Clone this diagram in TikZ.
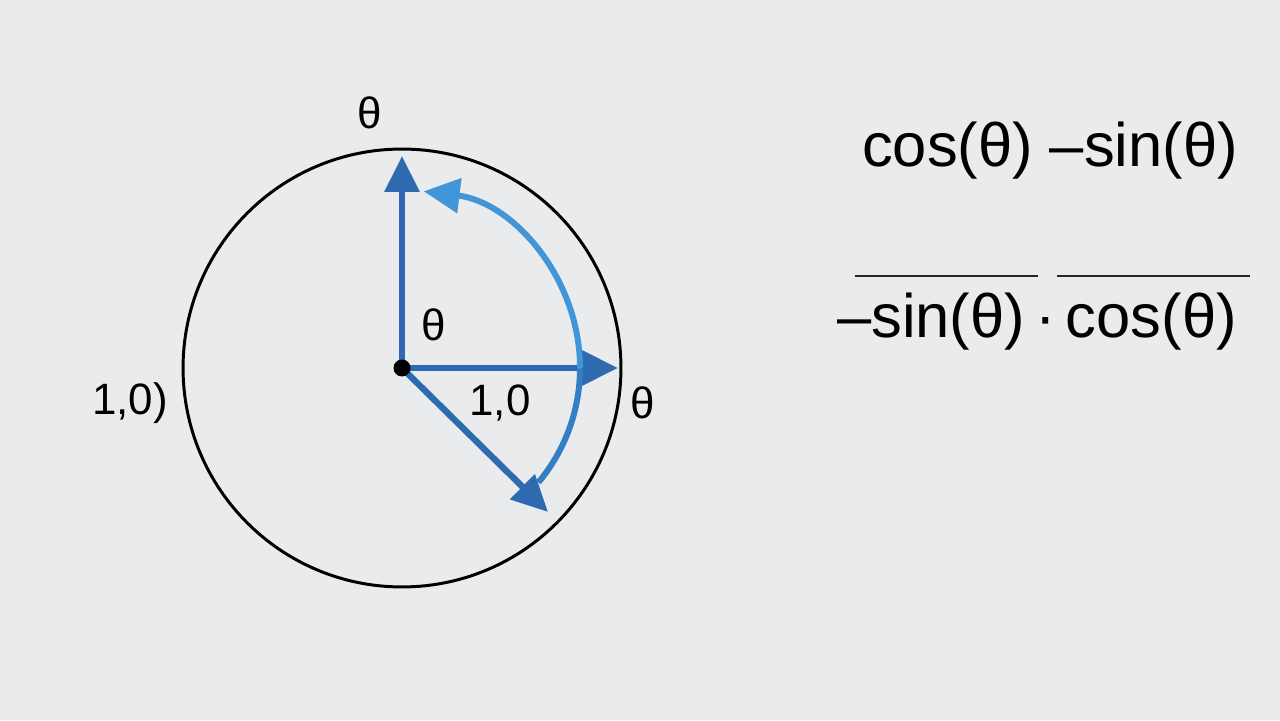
\documentclass[tikz,border=0pt]{standalone}
\usepackage{fontspec}
\setmainfont{Liberation Sans}
\usetikzlibrary{arrows.meta,positioning}
\definecolor{bggray}{RGB}{233,235,237}
\definecolor{vecblue}{RGB}{46,106,176}
\definecolor{arcmid}{RGB}{52,126,196}
\definecolor{arclight}{RGB}{66,150,216}
\tikzset{
  vec/.style={line width=3.6pt, color=vecblue, -{Triangle[length=0.72cm,width=0.68cm]}},
  lbl/.style={font=\fontsize{25}{30}\selectfont, inner sep=0pt},
  eqn/.style={font=\fontsize{35}{42}\selectfont, inner sep=0pt, anchor=base}
}

\begin{document}
\begin{tikzpicture}[x=0.02cm, y=0.02cm]
\fill[bggray] (0,0) rectangle (1280,720);
\useasboundingbox (0,0) rectangle (1280,720);

% Unit circle and origin
\coordinate (o) at (402,352);
\node[circle, draw=black, line width=1.7pt, minimum size=8.76cm, inner sep=0pt] (unit) at (o) {};

% End points of the vectors
\coordinate (top) at ([shift={(90:212)}]o);
\coordinate (right) at ([shift={(0:216)}]o);
\coordinate (diag) at ([shift={(-44.6:205)}]o);

% Vectors
\draw[vec] (o) -- (top);
\draw[vec] (o) -- (right);
\draw[vec] (o) -- (diag);
\node[circle, fill=black, minimum size=0.34cm, inner sep=0pt] (dot) at (o) {};

% Rotation arc
\draw[line width=3.4pt, arcmid] ([shift={(-40:178)}]o) arc[start angle=-40, end angle=1, radius=178];
\draw[line width=3.4pt, arclight, -{Triangle[length=0.72cm,width=0.68cm]}] ([shift={(0:178)}]o) arc[start angle=0, end angle=83, radius=178];

% Labels
\node[lbl] (thtop) at (370,607) {θ};
\node[lbl] (thin) at (434,395) {θ};
\node[lbl] (thright) at (643,317) {θ};
\node[lbl] (onein) at (500,317) {1,0};
\node[lbl] (oneout) at (130,317) {1,0)};

% Rotation matrix
\node[eqn] (row1) at (1050,553) {cos(θ) –sin(θ)};
\node[eqn] (row2) at (1037,382) {–sin(θ)\,·\,cos(θ)};
\coordinate (barA1) at (855,444);
\coordinate (barA2) at (1038,444);
\coordinate (barB1) at (1057,444);
\coordinate (barB2) at (1250,444);
\draw[line width=1.6pt, black!85] (barA1) -- (barA2);
\draw[line width=1.6pt, black!85] (barB1) -- (barB2);
\end{tikzpicture}
\end{document}
